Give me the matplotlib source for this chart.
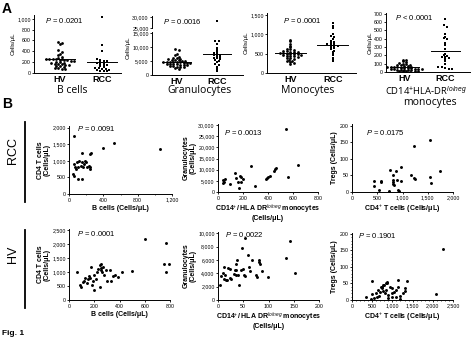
"""Fig 1: blood cell counts HV vs RCC (A) and correlations (B)."""
import numpy as np
import matplotlib
matplotlib.use("Agg")
import matplotlib.pyplot as plt
from matplotlib.ticker import FuncFormatter, MultipleLocator

plt.rcParams.update({"font.family": ["Liberation Sans", "DejaVu Sans"],
                     "mathtext.fontset": "custom",
                     "mathtext.rm": "Liberation Sans",
                     "mathtext.it": "Liberation Sans:italic",
                     "mathtext.bf": "Liberation Sans:bold",
                     "axes.linewidth": 0.7,
                     "xtick.major.width": 0.6, "ytick.major.width": 0.6,
                     "xtick.minor.width": 0.5, "ytick.minor.width": 0.5,
                     "xtick.major.size": 1.6, "ytick.major.size": 1.6,
                     "xtick.minor.size": 1.0, "ytick.minor.size": 1.0,
                     "xtick.major.pad": 1.0, "ytick.major.pad": 0.8})

W, H = 474, 338

# ---------------- panel A: dot plots ----------------
groups = ["HV", "RCC"]
b_hv = [570, 555, 530, 420, 380, 350, 330, 300, 280, 265, 260, 255, 250, 250, 245, 240, 235,
        230, 220, 210, 200, 190, 180, 175, 165, 160, 150, 140, 130, 120, 110, 100, 90, 80, 70]
b_rcc = [1040, 520, 400, 250, 240, 230, 220, 210, 190, 180, 160, 150, 140, 120, 110, 100,
         90, 80, 70, 60, 50, 45, 40, 30]
gran_hv = [9300, 8800, 7500, 7000, 6500, 6200, 6000, 5800, 5600, 5500, 5300, 5200, 5000, 4900,
           4800, 4800, 4700, 4600, 4500, 4500, 4400, 4300, 4200, 4100, 4000, 3900, 3800, 3700,
           3500, 3400, 3300, 3100, 3000, 2900, 2800, 2500, 2300]
gran_rcc = [28000, 12200, 12000, 11000, 9500, 9000, 8200, 7800, 7500, 7200, 7000, 6800, 6500,
            6200, 6000, 5700, 5400, 5000, 4500, 4000, 3500, 3000, 2200, 1600]
mono_hv = [860, 830, 760, 700, 660, 630, 610, 590, 570, 560, 550, 540, 530, 520, 510, 500, 495,
           490, 480, 470, 460, 450, 440, 430, 420, 400, 380, 360, 340, 320, 300, 280, 260, 240]
mono_rcc = [1280, 1220, 1150, 1000, 960, 920, 870, 830, 800, 780, 760, 740, 720, 700, 690, 670,
            640, 610, 580, 550, 500, 460, 400, 340, 300]
cd14_hv = [150, 145, 135, 125, 110, 100, 95, 90, 85, 80, 75, 70, 65, 62, 60, 58, 55, 52, 50, 48,
           45, 42, 40, 38, 35, 32, 30, 28, 25, 22, 20, 18, 15, 12, 10, 8, 5]
cd14_rcc = [640, 560, 540, 460, 420, 405, 395, 350, 320, 280, 220, 200, 190, 180, 175, 165, 155,
            130, 100, 60, 55, 45, 40, 38]
med_b = [250, 200]
med_gran = [4800, 7500]
med_mono = [510, 720]
med_cd14 = [55, 250]
p_a = ["= 0.0201", "= 0.0016", "= 0.0001", "< 0.0001"]

# ---------------- panel B: scatter plots ----------------
rb_x = [55, 520, 400, 1055, 150, 240, 260, 90, 120, 150, 175, 190, 200, 230, 250, 60, 70, 80,
        100, 140, 160, 210, 240, 50, 60, 110, 150]
rb_y = [1750, 1550, 1400, 1350, 1250, 1200, 1250, 950, 1000, 950, 900, 1000, 950, 850, 800, 900,
        800, 750, 800, 850, 800, 800, 750, 600, 550, 450, 450]
rg_x = [541, 267, 464, 456, 445, 640, 560, 413, 403, 392, 387, 296, 133, 141, 160, 173, 187, 187,
        200, 168, 93, 40, 48, 40, 53]
rg_y = [28200, 11800, 10900, 10500, 9300, 12000, 6800, 7200, 6700, 6200, 5800, 2900, 8600, 6500,
        4400, 7400, 6600, 4500, 5700, 1700, 3600, 5300, 4600, 4000, 5800]
rt_x = [1538, 1228, 1736, 1168, 1234, 1241, 1538, 1571, 752, 977, 878, 818, 812, 815, 818, 970,
        891, 581, 575, 442, 442, 528, 904, 924, 739, 825]
rt_y = [157, 138, 64, 50, 42, 38, 44, 27, 67, 75, 62, 51, 37, 30, 24, 33, 37, 33, 30, 33, 19, 7,
        7, 2, 3, 22]
hb_x = [64, 600, 770, 750, 790, 770, 171, 245, 250, 255, 260, 250, 293, 325, 365, 392, 499, 112,
        140, 179, 85, 99, 197, 245, 298, 120, 130, 150, 160, 170, 190, 200, 210, 220, 230, 270,
        280, 330, 350, 420]
hb_y = [990, 2180, 2030, 1280, 1290, 1020, 1190, 1250, 1150, 1080, 1010, 1300, 1070, 1095, 890,
        830, 1036, 650, 600, 540, 540, 480, 357, 476, 678, 700, 800, 750, 850, 800, 700, 900,
        750, 1000, 1100, 1200, 900, 700, 850, 1000]
hg_x = [53, 143, 48, 59, 68, 82, 82, 83, 38, 36, 135, 61, 12, 20, 23, 33, 36, 45, 50, 63, 87, 10,
        13, 31, 35, 51, 54, 75, 77, 99, 152, 12, 15, 18, 23, 25, 41, 3, 40, 6]
hg_y = [9300, 8900, 7800, 6800, 6000, 6000, 5700, 5400, 6000, 5400, 6300, 5000, 5000, 4800, 4600,
        4500, 4500, 4500, 4600, 4400, 4300, 4000, 3800, 3900, 3700, 3700, 3600, 3700, 3500, 3500,
        4000, 3200, 3000, 3000, 3300, 3200, 2300, 2200, 3700, 3600]
ht_x = [2254, 2090, 492, 1148, 1352, 861, 877, 713, 738, 779, 600, 650, 700, 750, 800, 820, 850,
        900, 950, 980, 1000, 1050, 1100, 1150, 1200, 1250, 1300, 1320, 500, 550, 350, 480, 620,
        680, 900, 1000, 1100, 760, 840, 1180]
ht_y = [155, 17, 59, 61, 58, 56, 53, 40, 35, 28, 20, 30, 25, 38, 45, 22, 30, 15, 40, 35, 10, 25,
        30, 38, 12, 22, 35, 28, 18, 5, 10, 3, 8, 12, 5, 20, 8, 45, 50, 2]
p_rcc = ["= 0.0091", "= 0.0013", "= 0.0175"]
p_hv = ["= 0.0001", "= 0.0022", "= 0.1901"]

comma = FuncFormatter(lambda v, p: f"{int(round(v)):,}")
fig = plt.figure(figsize=(W / 100, H / 100), dpi=100)


def rect(l, t, r, b):
    return [l / W, 1 - b / H, (r - l) / W, (b - t) / H]


def style(ax, fs=3.8):
    for s in ("top", "right"):
        ax.spines[s].set_visible(False)
    ax.tick_params(labelsize=fs)
    ax.patch.set_alpha(0)


def swarm(vals, binh, dx=0.085):
    vals = np.asarray(vals, float)
    xs = np.zeros(len(vals))
    keys = np.round(vals / binh).astype(int)
    for k in np.unique(keys):
        idx = np.where(keys == k)[0]
        n = len(idx)
        xs[idx] = (np.arange(n) - (n - 1) / 2) * dx
    return xs


def dots(ax, hv, rcc, med, binh):
    ax.scatter(swarm(hv, binh), hv, s=4.0, c="k", marker="o", lw=0)
    ax.scatter(1 + swarm(rcc, binh), rcc, s=3.5, c="k", marker="s", lw=0)
    for i, m in enumerate(med):
        ax.plot([i - 0.36, i + 0.36], [m, m], color="k", lw=0.7)


def cats(ax, x0, name, y=91, fs=7.5):
    ax.set_xticks([0, 1])
    ax.set_xticklabels(groups, fontsize=6.5, fontweight="bold")
    ax.tick_params(axis="x", length=0, pad=1.5)
    fig.text(x0 / W, 1 - y / H, name, ha="center", va="center", fontsize=fs,
             family=["Open Sans", "DejaVu Sans"])


def ptext(ax, x, y, s, fs=5.5):
    ax.text(x, y, "$P$ " + s, transform=ax.transAxes, fontsize=fs, va="center")


# --- B cells
ax = fig.add_axes(rect(34, 15, 121, 73))
style(ax)
dots(ax, b_hv, b_rcc, med_b, 40)
ax.set_xlim(-0.62, 1.45)
ax.set_ylim(0, 1070)
ax.set_yticks([0, 200, 400, 600, 800, 1000])
ax.yaxis.set_major_formatter(comma)
ax.set_ylabel("Cells/μL", fontsize=4.5, labelpad=1)
cats(ax, 72, "B cells")
ptext(ax, 0.13, 0.91, p_a[0])

# --- Granulocytes (broken axis)
ax_lo = fig.add_axes(rect(152, 31.6, 243, 75))
ax_hi = fig.add_axes(rect(152, 15.9, 243, 28))
for a in (ax_lo, ax_hi):
    style(a)
    dots(a, gran_hv, gran_rcc, med_gran, 750)
    a.set_xlim(-0.62, 1.65)
    a.yaxis.set_major_formatter(comma)
ax_lo.set_ylim(0, 15500)
ax_lo.set_yticks([0, 5000, 10000, 15000])
ax_hi.set_ylim(25000, 30500)
ax_hi.set_yticks([25000, 30000])
ax_hi.spines["bottom"].set_visible(False)
ax_hi.set_xticks([])
ax_lo.set_ylabel("Cells/μL", fontsize=4.5, labelpad=1, y=0.62)
cats(ax_lo, 200, "Granulocytes")
ptext(ax_hi, 0.12, 0.55, p_a[1])

# --- Monocytes
ax = fig.add_axes(rect(267, 13, 356, 73))
style(ax)
dots(ax, mono_hv, mono_rcc, med_mono, 55)
ax.set_xlim(-0.55, 1.55)
ax.set_ylim(0, 1550)
ax.set_yticks([0, 500, 1000, 1500])
ax.yaxis.set_major_formatter(comma)
ax.set_ylabel("Cells/μL", fontsize=4.5, labelpad=1)
cats(ax, 308, "Monocytes")
ptext(ax, 0.18, 0.88, p_a[2])

# --- CD14+HLA-DR lo/neg
ax = fig.add_axes(rect(386, 13, 470, 72))
style(ax)
dots(ax, cd14_hv, cd14_rcc, med_cd14, 25)
ax.set_xlim(-0.45, 1.6)
ax.set_ylim(0, 710)
ax.set_yticks(range(0, 701, 100))
ax.set_ylabel("Cells/μL", fontsize=4.5, labelpad=1)
cats(ax, 426, "CD14$^{+}$HLA-DR$^{lo/neg}$", fs=6.8)
fig.text(430 / W, 1 - 103 / H, "monocytes", ha="center", va="center", fontsize=7.5,
         family=["Open Sans", "DejaVu Sans"])
ptext(ax, 0.11, 0.93, p_a[3])

fig.text(2 / W, 1 - 9 / H, "A", fontsize=10, fontweight="bold", va="center")
fig.text(2 / W, 1 - 104 / H, "B", fontsize=10, fontweight="bold", va="center")


# ---------------- panel B ----------------
def scat(box, x, y, xlim, ylim, xt, yt, xlab, ylab, p, px, py):
    ax = fig.add_axes(rect(*box))
    style(ax)
    ax.scatter(x, y, s=4.5, c="k", lw=0)
    ax.set_xlim(*xlim)
    ax.set_ylim(*ylim)
    ax.set_xticks(xt)
    ax.set_yticks(yt)
    ax.xaxis.set_major_formatter(comma)
    ax.yaxis.set_major_formatter(comma)
    ax.set_xlabel(xlab, fontsize=5, fontweight="bold", labelpad=1.5, linespacing=0.9)
    ax.set_ylabel(ylab, fontsize=5, fontweight="bold", labelpad=1.2, linespacing=1.0)
    ptext(ax, px, py, p)
    return ax


cd14lab = "CD14$^{+}$/ HLA DR$^{lo/neg}$ monocytes\n(Cells/μL)"
ax = scat((69, 126, 172, 194), rb_x, rb_y, (0, 1200), (0, 2050), [0, 400, 800, 1200],
          [0, 500, 1000, 1500, 2000], "B cells (Cells/μL)", "CD4 T cells\n(Cells/μL)",
          p_rcc[0], 0.08, 0.97)
ax.xaxis.set_minor_locator(MultipleLocator(200))
ax = scat((218, 124, 318, 192), rg_x, rg_y, (0, 800), (0, 30500), [0, 200, 400, 600, 800],
          [0, 5000, 10000, 15000, 20000, 25000, 30000], cd14lab, "Granulocytes\n(Cells/μL)",
          p_rcc[1], 0.06, 0.87)
ax = scat((352, 124, 453, 192), rt_x, rt_y, (0, 2000), (0, 205), [0, 500, 1000, 1500, 2000],
          [0, 50, 100, 150, 200], "CD4$^{+}$ T cells (Cells/μL)", "Tregs (Cells/μL)",
          p_rcc[2], 0.14, 0.88)

ax = scat((69, 229, 170, 300), hb_x, hb_y, (0, 800), (0, 2550), [0, 200, 400, 600, 800],
          [0, 500, 1000, 1500, 2000, 2500], "B cells (Cells/μL)", "CD4 T cells\n(Cells/μL)",
          p_hv[0], 0.08, 0.94)
ax = scat((218, 232, 319, 300), hg_x, hg_y, (0, 200), (0, 10200), [0, 50, 100, 150, 200],
          [0, 2000, 4000, 6000, 8000, 10000], cd14lab, "Granulocytes\n(Cells/μL)",
          p_hv[1], 0.07, 0.97)
ax = scat((352, 233, 453, 300), ht_x, ht_y, (0, 2500), (0, 203), [0, 500, 1000, 1500, 2000, 2500],
          [0, 50, 100, 150, 200], "CD4$^{+}$ T cells (Cells/μL)", "Tregs (Cells/μL)",
          p_hv[2], 0.06, 0.96)
ax.xaxis.set_minor_locator(MultipleLocator(100))
ax.yaxis.set_minor_locator(MultipleLocator(10))

# row labels with bars
for lab, yc, y0, y1 in (("RCC", 150, 122, 202), ("HV", 254, 230, 308)):
    fig.text(13 / W, 1 - yc / H, lab, rotation=90, fontsize=9, ha="center", va="center")
    fig.add_artist(plt.Line2D([25 / W, 25 / W], [1 - y0 / H, 1 - y1 / H], color="k", lw=1.3))

fig.text(2 / W, 1 - 337 / H, "Fig. 1", fontsize=6, fontweight="bold", va="bottom")

fig.savefig("out.png", dpi=100)
